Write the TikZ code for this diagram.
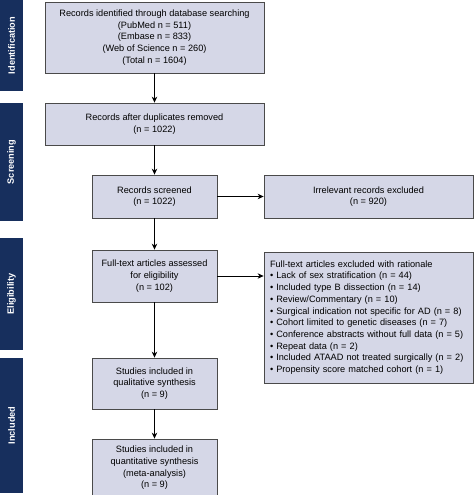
\documentclass[tikz,border=0pt]{standalone}
\usepackage{fontspec}
\setmainfont{Liberation Sans}
\usepackage{tikz}
\usetikzlibrary{arrows.meta, calc}
\definecolor{barblue}{HTML}{172F5D}
\definecolor{boxfill}{HTML}{D5D7E7}
\definecolor{boxline}{HTML}{4A4A4A}

\begin{document}
\begin{tikzpicture}[x=1pt, y=-1pt,
        box/.style={draw=boxline, fill=boxfill, line width=0.8pt, align=center, inner sep=3pt,
            font=\fontsize{9.2}{11.7}\selectfont},
        bar/.style={fill=barblue, text=white, rotate=90, minimum height=23pt, inner sep=0pt,
            font=\fontsize{9.2}{11.7}\selectfont\bfseries},
        arr/.style={-{Stealth[length=6pt,width=5.5pt]}, line width=0.8pt, draw=black}]
        \useasboundingbox (0,0) rectangle (474,495);

        % phase bars
        \node[bar, minimum width=91pt] (idbar) at (11.5,45.5) {Identification};
        \node[bar, minimum width=118pt] (scrbar) at (11.5,162) {Screening};
        \node[bar, minimum width=112pt] (eligbar) at (11.5,294) {Eligibility};
        \node[bar, minimum width=135pt] (inclbar) at (11.5,425.5) {Included};

        % boxes
        \node[box, minimum width=219pt, minimum height=71pt] (ident) at (154.5,37.5)
            {Records identified through database searching\\(PubMed n = 511)\\(Embase n = 833)\\(Web of Science n = 260)\\(Total n = 1604)};
        \node[box, minimum width=219pt, minimum height=42pt] (dupl) at (154.5,124)
            {Records after duplicates removed\\(n = 1022)};
        \node[box, minimum width=125pt, minimum height=43pt] (screen) at (154.5,196.5)
            {Records screened\\(n = 1022)};
        \node[box, minimum width=209pt, minimum height=43pt] (irrel) at (368.5,196.5)
            {Irrelevant records excluded\\(n = 920)};
        \node[box, minimum width=125pt, minimum height=52pt] (fulltext) at (154.5,276)
            {Full-text articles assessed\\for eligibility\\(n = 102)};
        \node[box, minimum width=209pt, minimum height=131pt, align=left, text width=197pt] (excl) at (368.5,317.5)
            {Full-text articles excluded with rationale\\
             \textbullet\ Lack of sex stratification (n = 44)\\
             \textbullet\ Included type B dissection (n = 14)\\
             \textbullet\ Review/Commentary (n = 10)\\
             \textbullet\ Surgical indication not specific for AD (n = 8)\\
             \textbullet\ Cohort limited to genetic diseases (n = 7)\\
             \textbullet\ Conference abstracts without full data (n = 5)\\
             \textbullet\ Repeat data (n = 2)\\
             \textbullet\ Included ATAAD not treated surgically (n = 2)\\
             \textbullet\ Propensity score matched cohort (n = 1)};
        \node[box, minimum width=125pt, minimum height=51pt] (qual) at (154.5,383.5)
            {Studies included in\\qualitative synthesis\\(n = 9)};
        \node[box, minimum width=125pt, minimum height=58pt] (quant) at (154.5,468)
            {Studies included in\\quantitative synthesis\\(meta-analysis)\\(n = 9)};

        % arrows
        \draw[arr] (ident) -- (dupl);
        \draw[arr] (dupl) -- (screen);
        \draw[arr] (screen) -- (irrel);
        \draw[arr] (screen) -- (fulltext);
        \draw[arr] (fulltext.east) -- (fulltext.east -| excl.west);
        \draw[arr] (fulltext) -- (qual);
        \draw[arr] (qual) -- (quant);
    \end{tikzpicture}
\end{document}
